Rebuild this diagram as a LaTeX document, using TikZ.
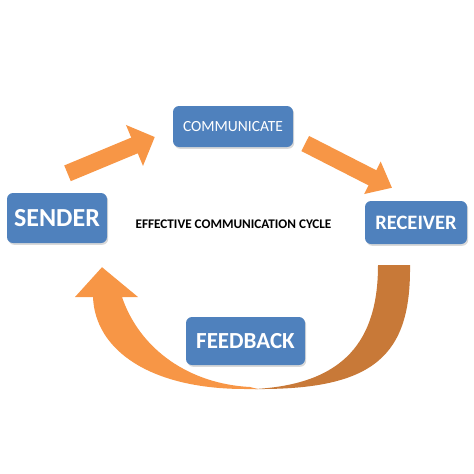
\documentclass[tikz,border=0pt]{standalone}
\usepackage{fontspec}
\setmainfont{Carlito}
\definecolor{ccblue}{RGB}{79,129,189}
\definecolor{ccorange}{RGB}{247,150,70}
\definecolor{ccbrown}{RGB}{200,121,56}
\usetikzlibrary{arrows.meta,calc,shadows}

\begin{document}
\begin{tikzpicture}[x=1pt,y=-1pt,
  stagebox/.style={fill=ccblue, rounded corners=6pt, text=white, align=center, inner sep=0pt,
    drop shadow={shadow xshift=1.2pt, shadow yshift=-1.8pt, opacity=0.3}},
  flowarrow/.style={draw=ccorange, line width=17pt}]
  \useasboundingbox (0,0) rectangle (474,474);
  \node[stagebox, minimum width=100pt, minimum height=50pt, font=\fontsize{26}{28}\selectfont\bfseries] (sender) at (57,218) {SENDER};
  \node[stagebox, minimum width=120pt, minimum height=41pt, font=\fontsize{15.5}{17}\selectfont] (communicate) at (233,126.5) {COMMUNICATE};
  \node[stagebox, minimum width=102pt, minimum height=43pt, font=\fontsize{20.5}{22}\selectfont\bfseries] (receiver) at (416,222.5) {RECEIVER};
  \node[stagebox, minimum width=119pt, minimum height=48pt, font=\fontsize{23}{25}\selectfont\bfseries] (feedback) at (245.5,341) {FEEDBACK};
  \node[font=\fontsize{13.2}{15}\selectfont\bfseries] (title) at (233.5,224) {EFFECTIVE COMMUNICATION CYCLE};

  \draw[flowarrow, -{Triangle[width=43pt,length=22pt]}] ([shift={(10.5,-19.5)}]sender.north) -- ([shift={(-18,10.5)}]communicate.west);
  \draw[flowarrow, -{Triangle[width=35pt,length=22pt]}] ([shift={(12,17)}]communicate.east) -- ([shift={(-24,-13)}]receiver.north);

  % curved feedback arrow
  \coordinate (fb-out) at ([shift={(-6,21)}]receiver.south);
  \coordinate (fb-in) at ([shift={(-38,21)}]receiver.south);
  \coordinate (fb-tip) at ([shift={(45,24)}]sender.south);
  \fill[ccbrown] (fb-out) .. controls (411,355) and (375,390) .. (255,389) .. controls (345,384) and (378,340) .. (fb-in) -- cycle;
  \fill[ccorange] (fb-tip) -- (138,297) -- (122,297) .. controls (140,350) and (190,384) .. (250,387) -- (258,389) -- (245,389) .. controls (150,389) and (95,350) .. (93,297) -- (75,297) -- cycle;
\end{tikzpicture}
\end{document}
